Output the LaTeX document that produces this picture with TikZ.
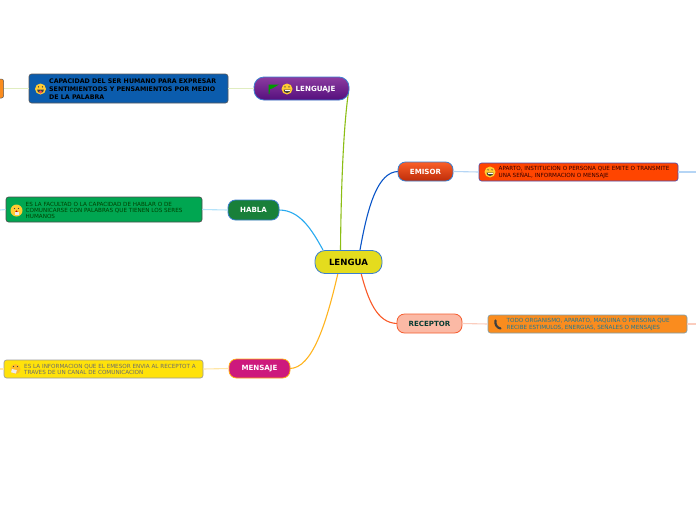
\documentclass[tikz,border=0pt]{standalone}
\usepackage{fontspec}
\setmainfont{DejaVu Sans}
\usetikzlibrary{calc}
\definecolor{cGreenL}{HTML}{E0EDC0}
\definecolor{cBlueL}{HTML}{B5D5F5}
\definecolor{cSkyL}{HTML}{B5E3FA}
\definecolor{cPinkL}{HTML}{FBCDBE}
\definecolor{cYelL}{HTML}{FFE6A6}
\definecolor{cCap}{HTML}{0B5CAD}
\definecolor{cEmi}{HTML}{FF4500}
\definecolor{cRec}{HTML}{FA8C1E}
\definecolor{cHab}{HTML}{00A651}
\definecolor{cMen}{HTML}{FFE20A}
\definecolor{cFace}{HTML}{FFCC33}
\definecolor{cBord}{HTML}{3C7FCF}
\definecolor{cLinkL}{HTML}{8CBE14}
\tikzset{
  x=1pt,y=-1pt,
  pill/.style={rounded corners=7.5pt,line width=.8pt,inner sep=0pt,font=\bfseries\fontsize{7.1}{8}\selectfont},
  infobox/.style={rounded corners=2.5pt,line width=.6pt,inner sep=0pt},
  infotext/.style={font=\fontsize{5.65}{6.2}\selectfont,align=left,anchor=west,inner sep=0pt},
  twig/.style={line width=1.1pt},
  link/.style={line width=1.1pt},
  face/.style={circle,fill=#1,minimum size=11pt,inner sep=0pt},
}
\begin{document}
\begin{tikzpicture}
\useasboundingbox (0,0) rectangle (696,520);
\fill[white] (0,0) rectangle (696,520);
\coordinate (eR1) at (696,172);
\coordinate (eR2) at (696,324);
\coordinate (eH) at (0,210);
\coordinate (eM) at (0,369);
\coordinate (eC) at (3.5,88.5);
% connectors
\coordinate (sL) at (340.5,250);
\coordinate (sE) at (360,250);
\coordinate (sR) at (361,273);
\coordinate (sH) at (323,250);
\coordinate (sM) at (338,273);
\draw[link,cLinkL] (sL) .. controls (341,195) and (343,130) .. (348.5,92);
\draw[link,color={rgb,255:red,10;green,85;blue,200}] (sE) .. controls (368,205) and (378,172) .. (398,171.5);
\draw[link,color={rgb,255:red,250;green,90;blue,40}] (sR) .. controls (368,300) and (377,323) .. (397,323.5);
\draw[link,color={rgb,255:red,40;green,170;blue,240}] (sH) .. controls (312,230) and (300,210) .. (279,210);
\draw[link,color={rgb,255:red,255;green,180;blue,30}] (sM) .. controls (326,325) and (312,368) .. (290,368.5);
% nodes
\node[draw=cBord,pill,fill={rgb,255:red,228;green,220;blue,30},minimum width=67pt,minimum height=23pt,rounded corners=10pt,font=\bfseries\fontsize{8.6}{9}\selectfont,text=black] (root) at (348.5,262) {LENGUA};
\node[draw=cBord,pill,minimum width=95pt,minimum height=23pt,rounded corners=10pt,top color={rgb,255:red,140;green,60;blue,160},bottom color={rgb,255:red,85;green,15;blue,125}] (leng) at (301.5,88.5) {};
\node[font=\bfseries\fontsize{7.1}{8}\selectfont,inner sep=0pt,text=white,anchor=west] (lengT) at (295.5,89.5) {LENGUAJE};
\node[draw=cBord,pill,minimum width=55pt,minimum height=19pt,top color={rgb,255:red,250;green,95;blue,40},bottom color={rgb,255:red,190;green,45;blue,10},text=white] (emi) at (425.5,171.5) {EMISOR};
\node[draw={rgb,255:red,245;green,95;blue,50},pill,fill={rgb,255:red,251;green,185;blue,165},minimum width=65pt,minimum height=19pt,text={rgb,255:red,10;green,60;blue,50}] (rec) at (429.5,323.5) {RECEPTOR};
\node[draw=cBord,pill,fill={rgb,255:red,25;green,128;blue,58},minimum width=51pt,minimum height=20pt,text=white] (hab) at (253.5,210) {HABLA};
\node[draw={rgb,255:red,255;green,170;blue,20},pill,fill={rgb,255:red,205;green,25;blue,125},minimum width=61pt,minimum height=19pt,text=white] (men) at (259.5,368.5) {MENSAJE};
% info boxes
\node[infobox,draw=gray!70!black,fill=cCap,minimum width=199pt,minimum height=29pt] (bCap) at (128.5,88.5) {};
\node[infobox,draw=gray!60!blue,fill=cEmi,minimum width=199pt,minimum height=18pt] (bEmi) at (578.5,172) {};
\node[infobox,draw=gray!70!cyan,fill=cRec,minimum width=199pt,minimum height=18pt] (bRec) at (587.5,324) {};
\node[infobox,draw=gray!60!black,fill=cHab,minimum width=196pt,minimum height=25pt] (bHab) at (104,209.5) {};
\node[infobox,draw=gray!80,fill=cMen,minimum width=199pt,minimum height=18pt] (bMen) at (103.5,369) {};
\fill[cRec,draw=gray!70!black,line width=.5pt,rounded corners=2pt] (-6,79) rectangle (3.5,98);
\node[infotext,font=\bfseries\fontsize{6.3}{7.9}\selectfont,text=black] (tCap) at (49,89.5) {CAPACIDAD DEL SER HUMANO PARA EXPRESAR\\SENTIMIENTODS Y PENSAMIENTOS POR MEDIO\\DE LA PALABRA};
\node[infotext,text=black!80!red] (tEmi) at (498.5,172.5) {APARTO, INSTITUCION O PERSONA QUE EMITE O TRANSMITE\\UNA SEÑAL, INFORMACION O MENSAJE};
\node[infotext,text={rgb,255:red,30;green,120;blue,150}] (tRec) at (506.5,324.5) {TODO ORGANISMO, APARATO, MAQUINA O PERSONA QUE\\RECIBE ESTIMULOS, ENERGIAS, SEÑALES O MENSAJES};
\node[infotext,text=black!75!green] (tHab) at (25.5,210.5) {ES LA FACULTAD O LA CAPACIDAD DE HABLAR O DE\\COMUNICARSE CON PALABRAS QUE TIENEN LOS SERES\\HUMANOS};
\node[infotext,text=gray!85!black] (tMen) at (24,369.5) {ES LA INFORMACION QUE EL EMESOR ENVIA AL RECEPTOT A\\TRAVES DE UN CANAL DE COMUNICACION};
% twigs
\draw[twig,cGreenL] (leng.west) -- (bCap.east);
\draw[twig,cGreenL] (bCap.west) -- (eC);
\draw[twig,cBlueL] (emi.east) -- (bEmi.west);
\draw[twig,cBlueL] (bEmi.east) -- (eR1);
\draw[twig,cPinkL] (rec.east) -- (bRec.west);
\draw[twig,cPinkL] (bRec.east) -- (eR2);
\draw[twig,cSkyL] (hab.west) -- (bHab.east);
\draw[twig,cSkyL] (bHab.west) -- (eH);
\draw[twig,cYelL] (men.west) -- (bMen.east);
\draw[twig,cYelL] (bMen.west) -- (eM);
% icons
\fill[green!60!black] (268.5,84.5) -- (279,84.5) -- (272,88.5) -- (270,89) -- (269.5,94) -- (268.5,94) -- cycle;
\node[face=cFace] (fLeng) at (287,89) {};
\fill[black!75] (283.5,89.5) arc (180:360:3.5pt) -- cycle;
\fill[white] (284.5,90) rectangle (289.5,91);
\fill[black!75] (285,86.8) circle (.7pt) (289,86.8) circle (.7pt);
\node[face=cFace] (fCap) at (40.5,89) {};
\fill[black!75] (37,89.5) arc (180:360:3.5pt) -- cycle;
\fill[red!70!white] (40.5,92) circle (1.7pt);
\fill[black!75] (38.5,86.8) circle (.7pt) (42.5,86.8) circle (.7pt);
\node[face=cFace] (fEmi) at (490,172) {};
\fill[black!75] (486.5,172.5) arc (180:360:3.5pt) -- cycle;
\fill[white] (487.5,173) rectangle (492.5,174);
\fill[black!75] (488,169.8) circle (.7pt) (492,169.8) circle (.7pt);
\node[face=cFace,minimum size=12pt] (fHab) at (16.5,210.5) {};
\fill[black!75] (14.5,208.5) circle (.7pt) (18.5,208.5) circle (.7pt);
\fill[red!75!black] (16.5,211.5) circle (1.2pt);
\fill[white!85!gray] (14.5,212.3) rectangle (18.5,214.8);
\node[face=cFace!80!orange,minimum size=10pt] (fMen) at (15.5,369) {};
\fill[white!85!gray,rotate around={-15:(14,371)}] (11.5,369.5) rectangle (16.5,373);
\fill[black!75] (13.5,366.5) circle (.6pt) (17.5,366.5) circle (.6pt);
\draw[line width=2.2pt,black!75,line cap=round] (495.5,320.5) .. controls (494.5,324) and (497,328) .. (500.5,328.5);
\end{tikzpicture}
\end{document}
